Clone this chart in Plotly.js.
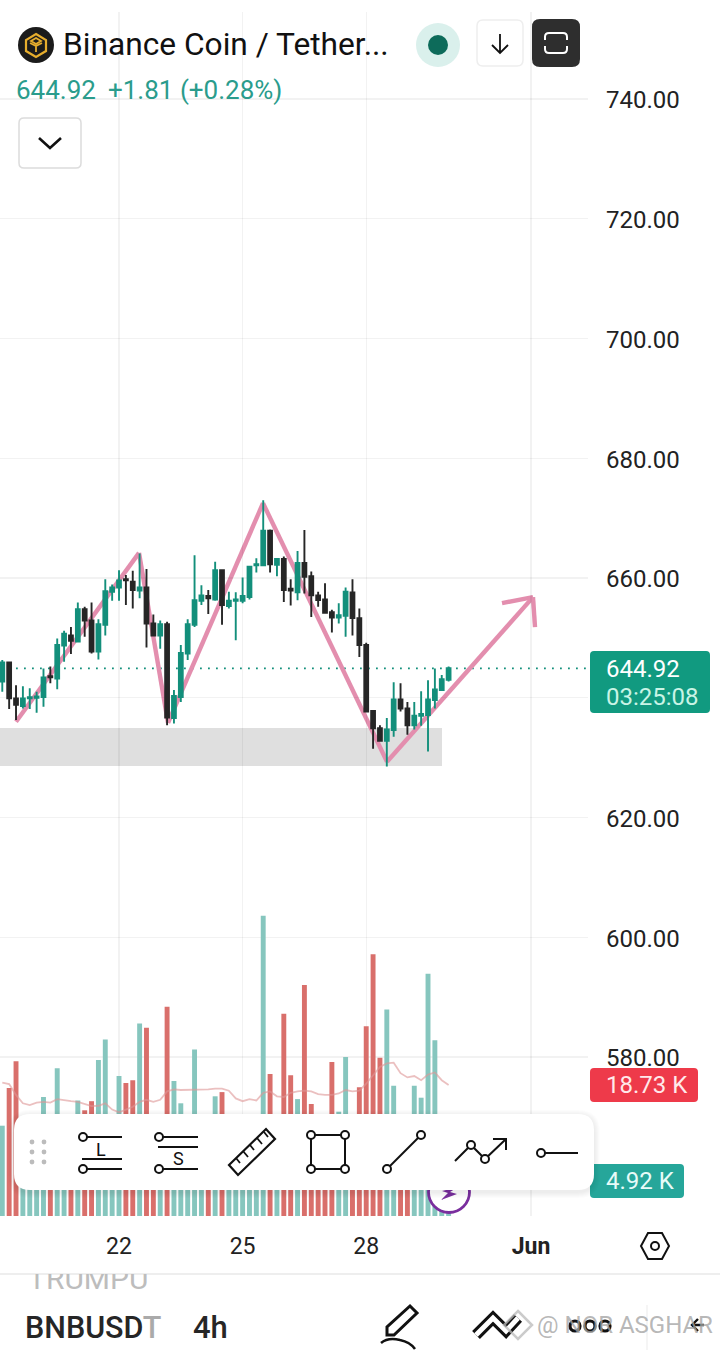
<!DOCTYPE html>
<html><head><meta charset="utf-8">
<script src="https://cdn.plot.ly/plotly-3.0.1.min.js"></script>
<style>html,body{margin:0;padding:0;background:#fff;overflow:hidden}#c{width:720px;height:1350px}</style>
</head><body><div id="c"></div>
<script>
const dates=["2025-05-19 04:00","2025-05-19 08:00","2025-05-19 12:00","2025-05-19 16:00","2025-05-19 20:00","2025-05-20 00:00","2025-05-20 04:00","2025-05-20 08:00","2025-05-20 12:00","2025-05-20 16:00","2025-05-20 20:00","2025-05-21 00:00","2025-05-21 04:00","2025-05-21 08:00","2025-05-21 12:00","2025-05-21 16:00","2025-05-21 20:00","2025-05-22 00:00","2025-05-22 04:00","2025-05-22 08:00","2025-05-22 12:00","2025-05-22 16:00","2025-05-22 20:00","2025-05-23 00:00","2025-05-23 04:00","2025-05-23 08:00","2025-05-23 12:00","2025-05-23 16:00","2025-05-23 20:00","2025-05-24 00:00","2025-05-24 04:00","2025-05-24 08:00","2025-05-24 12:00","2025-05-24 16:00","2025-05-24 20:00","2025-05-25 00:00","2025-05-25 04:00","2025-05-25 08:00","2025-05-25 12:00","2025-05-25 16:00","2025-05-25 20:00","2025-05-26 00:00","2025-05-26 04:00","2025-05-26 08:00","2025-05-26 12:00","2025-05-26 16:00","2025-05-26 20:00","2025-05-27 00:00","2025-05-27 04:00","2025-05-27 08:00","2025-05-27 12:00","2025-05-27 16:00","2025-05-27 20:00","2025-05-28 00:00","2025-05-28 04:00","2025-05-28 08:00","2025-05-28 12:00","2025-05-28 16:00","2025-05-28 20:00","2025-05-29 00:00","2025-05-29 04:00","2025-05-29 08:00","2025-05-29 12:00","2025-05-29 16:00","2025-05-29 20:00","2025-05-30 00:00"];
const opens=[642.7,645.9,639.9,638.6,639.9,640.0,640.1,643.6,643.2,648.7,650.4,649.4,654.8,652.9,647.7,652.2,657.7,658.4,659.8,659.4,657.9,658.4,652.4,650.4,652.3,636.6,640.1,647.4,652.2,656.2,657.0,656.4,661.3,655.3,656.2,656.2,656.8,662.1,662.1,667.9,662.2,663.2,658.2,657.6,662.5,660.3,657.1,656.4,654.3,653.4,653.7,657.6,653.3,648.8,637.8,634.9,632.8,634.6,639.7,638.2,635.4,637.0,637.1,639.6,641.3,643.0];
const highs=[646.3,646.0,642.1,641.9,641.6,641.0,644.9,645.2,649.9,651.2,651.8,655.9,655.2,655.9,653.1,659.8,658.9,661.3,660.5,661.2,664.1,661.5,653.9,652.9,652.7,641.3,648.8,653.1,663.8,658.8,658.0,662.7,661.4,657.7,657.6,660.1,662.0,663.3,673.0,668.1,663.3,663.6,659.8,664.5,668.0,661.1,657.7,659.1,654.7,655.8,658.4,659.8,654.9,649.2,637.9,635.4,636.6,642.6,642.4,639.3,639.3,641.1,642.9,644.9,643.8,645.2];
const lows=[641.0,638.1,636.3,638.2,638.1,637.5,638.5,642.4,641.4,646.0,647.3,649.4,650.2,647.4,646.4,650.4,656.2,656.2,655.5,654.9,656.6,648.4,650.4,648.2,635.4,635.7,639.3,646.3,651.8,655.5,654.0,656.2,652.2,654.9,649.6,655.8,656.4,660.9,662.1,660.9,660.3,656.0,655.4,656.3,657.4,653.5,655.2,654.1,650.9,652.4,650.2,650.4,646.8,637.7,631.5,632.8,628.5,633.5,637.7,633.8,634.7,635.3,631.0,638.2,641.3,642.7];
const closes=[645.9,639.9,638.8,639.9,640.1,640.2,643.4,643.4,648.8,650.7,649.5,654.8,652.9,647.7,652.3,657.8,658.4,659.6,659.6,658.0,658.4,652.4,650.4,652.3,636.7,640.3,647.5,652.3,656.3,657.1,656.6,661.3,655.5,656.2,656.4,657.0,661.9,662.3,667.9,662.3,663.2,658.0,657.9,662.5,660.2,657.1,656.3,654.2,653.4,653.8,657.7,653.3,648.8,637.7,634.9,632.8,634.7,639.7,638.2,635.4,637.0,637.3,639.7,641.4,643.1,644.92];
const volumes=[12.9,18.3,22.1,8,9,7,17.0,6,21.1,11,8,16.5,15.1,16.4,22.3,25.2,10,20.0,19.0,19.4,27.5,26.9,12,9,29.9,19.3,16.1,11,23.8,8,7,17.1,17.7,9,10,9,11,8,42.9,20.3,10,28.9,20.1,16.7,33.0,16.0,9,10,22.0,14.9,22.7,13,18.4,27.1,37.4,22.6,29.5,18.6,10,11,18.6,16.9,34.6,25.1,9,4.92];
const volumeMA=[19.05,18.85,17.3,16.1,15.85,16.2,16.3,16.2,16.7,16.5,16.4,16.3,16.0,15.7,15.75,16.1,15.2,14.8,15.2,15.6,16.3,16.6,16.3,16.6,17.8,18.1,18.0,18.0,18.1,18.1,18.1,18.2,18.2,17.9,16.8,16.4,16.7,16.5,17.6,17.8,17.1,17.0,17.6,17.8,17.9,17.8,17.4,17.3,17.3,17.5,18.0,17.8,17.9,18.9,20.1,21.3,21.8,21.9,20.4,19.8,20.0,19.4,20.2,20.5,19.4,18.73];
const priceTicks=[580,600,620,640,660,680,700,720,740];
const priceTickLabels=["580.00","600.00","620.00","","660.00","680.00","700.00","720.00","740.00"];
const dateTicks=["2025-05-22","2025-05-25","2025-05-28","2025-06-01"];
const dateTickLabels=["22","25","28","<b>Jun</b>"];
const zigzagDates=["2025-05-19 12:00","2025-05-22 11:39","2025-05-23 04:33","2025-05-25 11:53","2025-05-28 12:07","2025-06-01 01:10"];
const zigzagPrices=[636.0,664.2,635.8,672.5,629.3,656.8];
const arrowDates=["2025-05-31 07:06","2025-06-01 01:10","2025-06-01 02:20"];
const arrowPrices=[655.8,656.8,651.8];
const zone={y0:628.6,y1:634.95};
const lastPrice=644.92;
const GREEN="#138f7b",DARK="#262626",TEAL="#86c6be",RED="#d96f6b",PINK="#e38eae";
const X=x=>x/720,Y=y=>1-y/1350;
const path=(s)=>s.replace(/(-?[\d.]+) (-?[\d.]+)/g,(m,a,b)=>X(+a).toFixed(5)+","+Y(+b).toFixed(5));
const S=[];
const shp=(d,o)=>S.push(Object.assign({type:"path",xref:"paper",yref:"paper",layer:"above",path:path(d),line:{width:0}},o||{}));
const stroke=(d,c,w)=>shp(d,{line:{color:c||"#111",width:w||2}});
const rr=(x0,y0,x1,y1,r,fill,lc,lw)=>shp(`M ${x0+r} ${y0} L ${x1-r} ${y0} Q ${x1} ${y0} ${x1} ${y0+r} L ${x1} ${y1-r} Q ${x1} ${y1} ${x1-r} ${y1} L ${x0+r} ${y1} Q ${x0} ${y1} ${x0} ${y1-r} L ${x0} ${y0+r} Q ${x0} ${y0} ${x0+r} ${y0} Z`,{fillcolor:fill||"rgba(0,0,0,0)",line:{color:lc||"rgba(0,0,0,0)",width:lw||0}});
const circ=(cx,cy,r,fill,lc,lw)=>S.push({type:"circle",xref:"paper",yref:"paper",layer:"above",x0:X(cx-r),x1:X(cx+r),y0:Y(cy+r),y1:Y(cy-r),fillcolor:fill||"#fff",line:{color:lc||"rgba(0,0,0,0)",width:lw||0}});
const A=[];
const txt=(x,y,t,size,color,o)=>A.push(Object.assign({xref:"paper",yref:"paper",x:X(x),y:Y(y),text:t,showarrow:false,xanchor:"left",yanchor:"middle",borderpad:0,font:{family:"Roboto",size:size,color:color}},o||{}));

// chart annotations in data space, under the candles
S.push({type:"rect",xref:"paper",x0:0,x1:442/720,yref:"y",y0:zone.y0,y1:zone.y1,layer:"below",fillcolor:"rgba(175,175,175,0.40)",line:{width:0}});
S.push({type:"line",xref:"paper",x0:0,x1:588/720,yref:"y",y0:lastPrice,y1:lastPrice,layer:"below",line:{color:GREEN,width:1.8,dash:"1.8px,6.2px"}});
for(let i=0;i<zigzagDates.length-1;i++)S.push({type:"line",xref:"x",yref:"y",layer:"below",x0:zigzagDates[i],x1:zigzagDates[i+1],y0:zigzagPrices[i],y1:zigzagPrices[i+1],line:{color:PINK,width:4.4}});
for(let i=0;i<2;i++)S.push({type:"line",xref:"x",yref:"y",layer:"below",x0:arrowDates[i],x1:arrowDates[i+1],y0:arrowPrices[i],y1:arrowPrices[i+1],line:{color:PINK,width:4.4}});

// price tags
rr(590,651,710,713,4,"#119a80");
txt(605,669,"644.92",24,"#ffffff");
txt(605,697,"03:25:08",24,"#c9f4e6");
rr(590,1068,698,1102,4,"#ee3a4a");
txt(605,1085,"18.73 K",24,"#ffe9ea");
rr(590,1164,684,1198,4,"#26a69a");
txt(605,1181,"4.92 K",24,"#e8fbf8");

// purple lightning badge
circ(449,1192,20.5,"#ffffff","#7a2f9e",2.8);
shp("M 458 1187 L 442 1191 L 448 1193 L 441 1200 L 457 1194 L 450 1192 Z",{fillcolor:"#7a2f9e"});

// floating toolbar
for(let k=6;k>=1;k--)rr(14-k,1114-k+2,594+k,1190+k+2,16+k,"rgba(0,0,0,0.012)");
rr(14,1114,594,1190,16,"#ffffff");
[32,44].forEach(x=>[1142,1152,1162].forEach(y=>circ(x,y,2.4,"#bcbcbc")));
const K="#111111";
stroke("M 87 1137 L 122 1137",K,2);stroke("M 82 1159 L 122 1159",K,2);stroke("M 87 1169 L 122 1169",K,2);
circ(83,1137,4,"#fff",K,2);circ(83,1169,4,"#fff",K,2);
txt(101,1149,"L",18,K,{xanchor:"center"});
stroke("M 163 1137 L 198 1137",K,2);stroke("M 158 1147 L 198 1147",K,2);stroke("M 163 1169 L 198 1169",K,2);
circ(159,1137,4,"#fff",K,2);circ(159,1169,4,"#fff",K,2);
txt(178,1158,"S",18,K,{xanchor:"center"});
shp("M 229 1165 L 266 1129 L 275 1139 L 238 1175 Z",{fillcolor:"#fff",line:{color:K,width:2.2}});
[[236,1158,240,1163],[243,1151,248,1157],[250,1145,254,1150],[257,1138,262,1144],[264,1132,268,1137]].forEach(t=>stroke(`M ${t[0]} ${t[1]} L ${t[2]} ${t[3]}`,K,1.8));
stroke("M 311 1135 L 345 1135 L 345 1169 L 311 1169 Z",K,2);
[[311,1135],[345,1135],[311,1169],[345,1169]].forEach(c=>circ(c[0],c[1],4,"#fff",K,2));
stroke("M 387 1169 L 421 1135",K,2);
circ(387,1169,4,"#fff",K,2);circ(421,1135,4,"#fff",K,2);
stroke("M 455 1161 L 471 1145 L 485 1159 L 506 1139",K,2);
stroke("M 493 1139 L 506 1139 L 506 1150",K,2);
circ(471,1145,4,"#fff",K,2);circ(485,1159,4,"#fff",K,2);
stroke("M 545 1153 L 578 1153",K,2);circ(541,1153,4,"#fff",K,2);

// header
circ(36,45,18,"#1b1b1b");
stroke("M 36 34 L 46 40 L 46 51 L 36 57 L 26 51 L 26 40 Z","#e6ad2d",2.2);
stroke("M 30 43 L 36 46 L 42 43 M 36 46 L 36 52 M 36 38 L 41 41 L 36 44 L 31 41 Z","#e6ad2d",1.8);
txt(61.5,45,"Binance Coin / Tether...",31.7,"#111111");
txt(15,90,"644.92",26,"#2a9c8c");
txt(107,90,"+1.81 (+0.28%)",26,"#2a9c8c");
rr(19,118,81,168,5,"#ffffff","#dcdcdc",1.5);
stroke("M 39 138 L 50 148 L 61 138",K,2.6);
circ(438,45,22,"#daf0ec");circ(438,45,10,"#0d6b5a");
rr(477,20,523,66,6,"#ffffff","#eeeeee",1.5);
stroke("M 500 34 L 500 53 M 492 45 L 500 53 L 508 45",K,1.8);
rr(532,19,580,67,8,"#2e2e2e");
stroke("M 545 40 L 545 37 Q 545 33 549 33 L 563 33 Q 567 33 567 37 L 567 40","#ffffff",2);
stroke("M 545 46 L 545 49 Q 545 53 549 53 L 563 53 Q 567 53 567 49 L 567 46","#ffffff",2);

// footer
stroke("M 0 1274 L 720 1274","#eeeeee",2);
stroke("M 641 1246 L 648 1233 L 662 1233 L 669 1246 L 662 1259 L 648 1259 Z",K,2);
circ(655,1246,4,"#fff",K,2);
txt(27,1297,"TRUMPU",30,"#bdbdbd",{yanchor:"bottom",height:22,valign:"bottom",align:"left"});
txt(24,1327,'BNBUSD<span style="color:#aaa">T</span>',30.5,"#262626",{font:{family:"Roboto",size:30.5,color:"#262626",weight:500}});
txt(192,1327,"4h",31,"#262626",{font:{family:"Roboto",size:31,color:"#262626",weight:500}});
stroke("M 387 1335 L 387 1327 L 410 1306 L 417 1313 L 394 1335 Z",K,3);
stroke("M 381 1343 Q 388 1337 400 1340 Q 410 1342 415 1349",K,2.5);
stroke("M 476 1335 L 493 1318 L 506 1331 L 518 1318",K,11);
stroke("M 476 1335 L 493 1318 L 506 1331 L 518 1318","#ffffff",5);
[575,590,605].forEach(x=>circ(x,1326,5,"#ffffff",K,3.2));
stroke("M 647 1305 L 647 1350","#eeeeee",1.2);
stroke("M 704 1325 L 692 1325 M 698 1319 L 692 1325 L 698 1331",K,2.4);
shp("M 518 1311 L 532 1325 L 518 1339 L 504 1325 Z",{line:{color:"rgba(185,185,185,0.75)",width:2.5}});
txt(536,1325,"@ NOR ASGHAR",24,"rgba(165,165,165,0.8)");

const traces=[
 {type:"bar",x:dates,y:volumes,yaxis:"y2",width:10300000,marker:{color:opens.map((o,i)=>closes[i]>=o?TEAL:RED),line:{width:0}},hoverinfo:"skip"},
 {type:"scatter",mode:"lines",x:dates,y:volumeMA,yaxis:"y2",line:{color:"rgba(222,150,150,0.6)",width:1.8},hoverinfo:"skip"},
 {type:"candlestick",x:dates,open:opens,high:highs,low:lows,close:closes,whiskerwidth:0,
  increasing:{line:{color:GREEN,width:1.9},fillcolor:GREEN},decreasing:{line:{color:DARK,width:1.9},fillcolor:DARK},hoverinfo:"skip"}
];
const GRID="rgba(0,0,0,0.05)";
const layout={width:720,height:1350,margin:{l:0,r:0,t:0,b:0},paper_bgcolor:"#fff",plot_bgcolor:"#fff",showlegend:false,boxgap:0.2,font:{family:"Roboto"},
 xaxis:{type:"date",domain:[0,588/720],range:["2025-05-19 02:40","2025-06-02 09:12"],rangeslider:{visible:false},tickmode:"array",tickvals:dateTicks,ticktext:dateTickLabels,tickangle:0,ticklen:0,showgrid:true,gridcolor:GRID,gridwidth:1.3,zeroline:false,showline:false,tickfont:{family:"Roboto",size:23,color:"#222"},ticklabelstandoff:14},
 yaxis:{domain:[134/1350,1338/1350],range:[553.44,754.53],side:"right",anchor:"x",tickmode:"array",tickvals:priceTicks,ticktext:priceTickLabels,ticklen:0,showgrid:true,gridcolor:GRID,gridwidth:1.3,zeroline:false,showline:false,tickfont:{family:"Roboto",size:24,color:"#222"},ticklabelstandoff:17,ticklabelshift:1,fixedrange:true},
 yaxis2:{overlaying:"y",side:"right",range:[0,172],showticklabels:false,showgrid:false,zeroline:false,ticklen:0,fixedrange:true},
 shapes:S,annotations:A};
Plotly.newPlot("c",traces,layout,{displayModeBar:false,staticPlot:true});
</script></body></html>
